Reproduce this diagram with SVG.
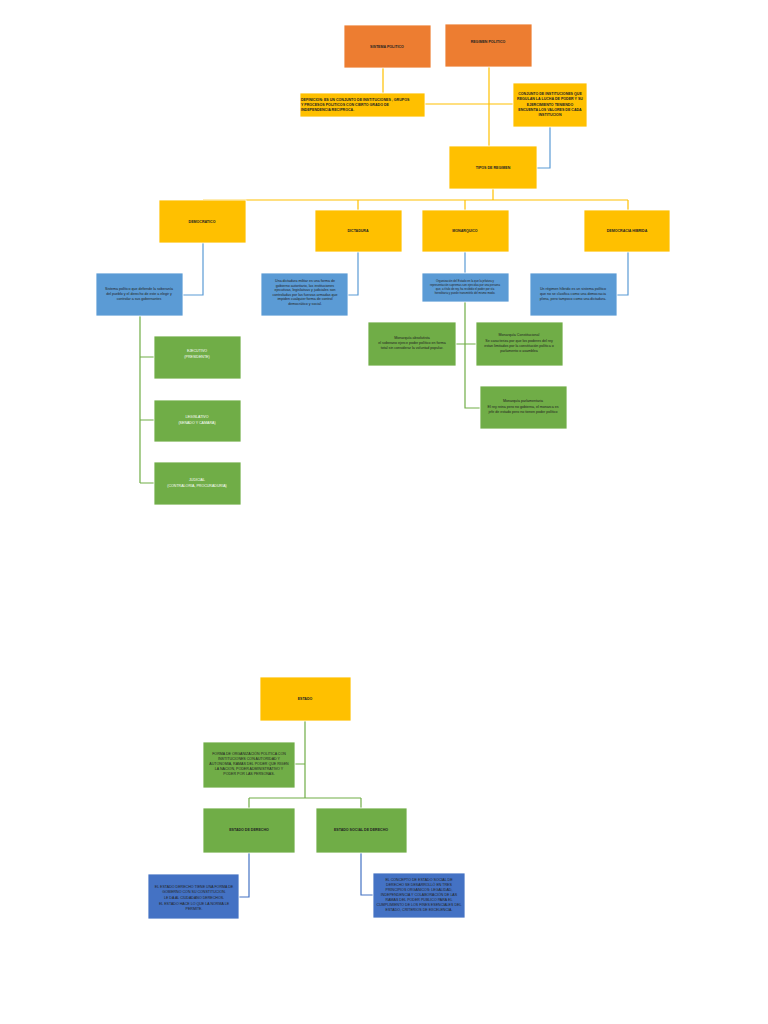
<svg xmlns="http://www.w3.org/2000/svg" width="768" height="1024" viewBox="0 0 768 1024">
<style>
text{font-family:"Liberation Sans",Arial,sans-serif;font-size:3.6px;text-anchor:middle;fill:#222}
.b{font-weight:bold}
.w{fill:#fff}
.or{fill:#ED7D31;stroke:#fff;stroke-width:0.8}
.ye{fill:#FFC000;stroke:#fff;stroke-width:0.8}
.bl{fill:#5B9BD5;stroke:#fff;stroke-width:0.8}
.gr{fill:#70AD47;stroke:#fff;stroke-width:0.8}
.db{fill:#4472C4;stroke:#fff;stroke-width:0.8}
.ly{stroke:#FFC000;fill:none;stroke-width:1.2}
.lb{stroke:#5B9BD5;fill:none;stroke-width:1.2}
.lg{stroke:#70AD47;fill:none;stroke-width:1.2}
.ld{stroke:#4472C4;fill:none;stroke-width:1.2}
</style>
<rect width="768" height="1024" fill="#fff"/>
<g id="connectors">
<path class="ly" d="M383 68V93M425 104H513M489 67V147M493 189V200M203 200H628M203 200V200M358 200V210M465 200V210M628 200V210"/>
<path class="lb" d="M550 127V168H537M203 243V295H183M358 252V295H348M628 252V295H617M465 252V273"/>
<path class="lg" d="M465 302V408H480M456 344H476M140 316V483M140 357H154M140 420H154M140 483H154"/>
<path class="lg" d="M305 721V798M295 764H305M249 798H361M249 798V808M361 798V808"/>
<path class="ld" d="M249 853V897H239M361 853V895H373"/>
</g>
<g id="sistema"><rect class="or" x="344" y="25" width="87" height="43"/><text class="b" x="387" y="48">SISTEMA POLITICO</text></g>
<g id="regimen"><rect class="or" x="445" y="24" width="87" height="43"/><text class="b" x="488" y="43">REGIMEN POLITICO</text></g>
<g id="definicion"><rect class="ye" x="300" y="93" width="125" height="24"/>
<text class="b" x="301" y="101" style="text-anchor:start">DEFINICION: ES UN CONJUNTO DE INSTITUCIONES , GRUPOS</text>
<text class="b" x="301" y="106" style="text-anchor:start">Y PROCESOS  POLITICOS CON CIERTO GRADO DE</text>
<text class="b" x="301" y="111" style="text-anchor:start">INDEPENDENCIA RECIPROCA.</text></g>
<g id="conjunto"><rect class="ye" x="513" y="83" width="74" height="44"/>
<text class="b" x="550" y="95">CONJUNTO DE INSTITUCIONES QUE</text>
<text class="b" x="550" y="100">REGULAN LA LUCHA DE PODER  Y SU</text>
<text class="b" x="550" y="106">EJERCIMIENTO TENIENDO</text>
<text class="b" x="550" y="111">ENCUENTA LOS VALORES DE CADA</text>
<text class="b" x="550" y="116">INSTITUCION</text></g>
<g id="tipos"><rect class="ye" x="449" y="146" width="88" height="43"/><text class="b" x="493" y="169">TIPOS DE REGIMEN</text></g>
<g id="democratico"><rect class="ye" x="159" y="200" width="87" height="43"/><text class="b" x="202" y="223">DEMOCRATICO</text></g>
<g id="dictadura"><rect class="ye" x="315" y="210" width="87" height="42"/><text class="b" x="358" y="232">DICTADURA</text></g>
<g id="monarquico"><rect class="ye" x="422" y="210" width="87" height="42"/><text class="b" x="465" y="232">MONARQUICO</text></g>
<g id="hibrida"><rect class="ye" x="584" y="210" width="86" height="42"/><text class="b" x="627" y="232">DEMOCRACIA HIBRIDA</text></g>
<g id="dem-desc"><rect class="bl" x="96" y="273" width="87" height="43"/>
<text x="139" y="290">Sistema político que defiende la soberanía</text>
<text x="139" y="295">del pueblo y el derecho de este a elegir y</text>
<text x="139" y="300">controlar a sus gobernantes</text></g>
<g id="dict-desc"><rect class="bl" x="261" y="273" width="87" height="43"/>
<text x="305" y="282">Una dictadura militar es una forma de</text>
<text x="305" y="286.5">gobierno autoritario,  las instituciones</text>
<text x="305" y="291">ejecutivas, legislativas y judiciales son</text>
<text x="305" y="295.5">controladas por las fuerzas armadas que</text>
<text x="305" y="300">impiden cualquier forma de control</text>
<text x="305" y="304.5">democrático y social.</text></g>
<g id="mon-desc"><rect class="bl" x="422" y="273" width="87" height="29"/>
<text x="465" y="282" style="font-size:2.8px">Organización del Estado en la que la jefatura y</text>
<text x="465" y="286" style="font-size:2.8px">representación supremas son ejercidas por una persona</text>
<text x="465" y="290" style="font-size:2.8px">que, a título de rey, ha recibido el poder por vía</text>
<text x="465" y="294" style="font-size:2.8px">hereditaria y puede transmitirlo del mismo modo.</text></g>
<g id="hib-desc"><rect class="bl" x="530" y="273" width="87" height="43"/>
<text x="573" y="290">Un régimen híbrido es un sistema político</text>
<text x="573" y="295">que no se clasifica como una democracia</text>
<text x="573" y="300">plena, pero tampoco como una dictadura.</text></g>
<g id="absoluta"><rect class="gr" x="368" y="322" width="88" height="44"/>
<text x="412" y="339">Monarquía absolutista</text>
<text x="412" y="344">el soberano ejerce poder político en forma</text>
<text x="412" y="349">total sin considerar la voluntad popular.</text></g>
<g id="constitucional"><rect class="gr" x="476" y="322" width="87" height="44"/>
<text x="519" y="336">Monarquía Constitucional</text>
<text x="519" y="342">Se caracteriza por que los poderes del rey</text>
<text x="519" y="347">estan limitados por la constitución política o</text>
<text x="519" y="352">parlamento o asamblea</text></g>
<g id="parlamentaria"><rect class="gr" x="480" y="386" width="87" height="43"/>
<text x="523" y="402">Monarquía parlamentaria</text>
<text x="523" y="408">El rey reina pero no gobierna, el monarca es</text>
<text x="523" y="413">jefe de estado pero no tienen poder político</text></g>
<g id="ejecutivo"><rect class="gr" x="154" y="336" width="87" height="43"/>
<text class="w" x="197" y="352">EJECUTIVO</text><text class="w" x="197" y="358">(PRESIDENTE)</text></g>
<g id="legislativo"><rect class="gr" x="154" y="400" width="87" height="42"/>
<text class="w" x="197" y="418">LEGISLATIVO</text><text class="w" x="197" y="424">(SENADO Y CAMARA)</text></g>
<g id="judicial"><rect class="gr" x="154" y="462" width="87" height="43"/>
<text class="w" x="197" y="481">JUDICIAL</text><text class="w" x="197" y="487">(CONTRALORIA, PROCURADURIA)</text></g>
<g id="estado"><rect class="ye" x="260" y="677" width="91" height="44"/><text class="b" x="305" y="700">ESTADO</text></g>
<g id="estado-def"><rect class="gr" x="203" y="742" width="92" height="46"/>
<text x="249" y="755">FORMA DE ORGANIZACIÓN POLITICA CON</text>
<text x="249" y="760">INSTITUCIONES CON AUTORIDAD Y</text>
<text x="249" y="765">AUTONOMIA,  RAMAS DEL PODER QUE RIGEN</text>
<text x="249" y="770">LA NACION, PODER ADMINISTRATIVO Y</text>
<text x="249" y="775">PODER POR LAS PERSONAS.</text></g>
<g id="derecho"><rect class="gr" x="203" y="808" width="92" height="45"/><text class="b" x="249" y="831">ESTADO DE DERECHO</text></g>
<g id="social"><rect class="gr" x="316" y="808" width="91" height="45"/><text class="b" x="361" y="831">ESTADO SOCIAL DE DERECHO</text></g>
<g id="derecho-desc"><rect class="db" x="148" y="874" width="91" height="45"/>
<text x="194" y="888">EL ESTADO DERECHO TIENE UNA FORMA DE</text>
<text x="194" y="893">GOBIERNO CON SU CONSTITUCION.</text>
<text x="194" y="899">LE DA AL CIUDADANO DERECHOS.</text>
<text x="194" y="905">EL ESTADO HACE LO QUE LA NORMA LE</text>
<text x="194" y="910">PERMITE.</text></g>
<g id="social-desc"><rect class="db" x="373" y="873" width="92" height="45"/>
<text x="419" y="881">EL CONCEPTO DE ESTADO SOCIAL DE</text>
<text x="419" y="886">DERECHO SE DESARROLLÓ EN TRES</text>
<text x="419" y="891">PRINCIPIOS ORGANICOS: LEGALIDAD,</text>
<text x="419" y="896">INDEPENDENCIA Y COLABORACIÓN DE LAS</text>
<text x="419" y="901">RAMAS DEL PODER PUBLICO PARA EL</text>
<text x="419" y="906">CUMPLIMIENTO DE LOS FINES ESENCIALES DEL</text>
<text x="419" y="911">ESTADO, CRITERIOS DE EXCELENCIA.</text></g>
</svg>
